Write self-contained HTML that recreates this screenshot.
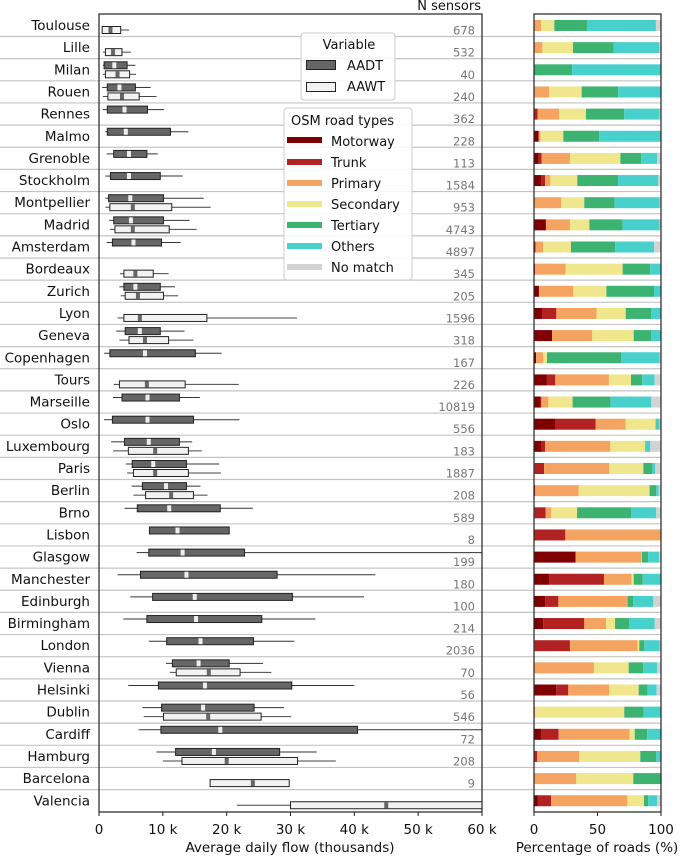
<!DOCTYPE html>
<html><head><meta charset="utf-8"><style>
html,body{margin:0;padding:0;background:#fff;}
svg{display:block;font-family:"DejaVu Sans","Liberation Sans",sans-serif;}
</style></head><body>
<svg id="chart" width="685" height="856" viewBox="0 0 685 856" xmlns="http://www.w3.org/2000/svg">
<g id="grid"></g>
<g id="boxes"></g>
<g id="bars"></g>
<g id="labels"></g>
<g id="axes"></g>
</svg>
<script>
const cities=["Toulouse","Lille","Milan","Rouen","Rennes","Malmo","Grenoble","Stockholm","Montpellier","Madrid","Amsterdam","Bordeaux","Zurich","Lyon","Geneva","Copenhagen","Tours","Marseille","Oslo","Luxembourg","Paris","Berlin","Brno","Lisbon","Glasgow","Manchester","Edinburgh","Birmingham","London","Vienna","Helsinki","Dublin","Cardiff","Hamburg","Barcelona","Valencia"];
const nSensors=[678,532,40,240,362,228,113,1584,953,4743,4897,345,205,1596,318,167,226,10819,556,183,1887,208,589,8,199,180,100,214,2036,70,56,546,72,208,9,null];
// [whiskerLow, q1, median, q3, whiskerHigh] in thousands, null = absent
const aadt=[null,null,[0.6,0.8,2.4,4.4,5.7],[0.5,1.3,3.2,5.7,8.1],[0.6,1.3,4.0,7.6,10.2],[1.0,1.3,4.2,11.2,14.0],[1.2,2.3,4.7,7.5,9.2],[1.0,1.8,4.7,9.6,13.1],[1.0,1.5,4.9,10.1,16.4],[1.6,2.3,5.0,10.1,14.2],[1.2,2.1,5.4,9.8,12.8],null,[3.2,3.9,5.7,9.6,11.9],null,[2.7,4.1,6.4,9.6,13.4],[0.8,1.7,7.2,15.1,19.2],null,[2.2,3.6,7.6,12.6,15.8],[0.8,2.1,7.6,14.8,22.0],[1.9,4.0,7.8,12.6,14.6],[4.2,5.2,8.5,13.7,18.8],[5.1,6.8,10.5,13.7,15.9],[4.0,6.0,11.0,19.0,24.1],[null,7.9,12.3,20.4,null],[5.9,7.8,13.1,22.8,70],[2.9,6.5,13.7,27.9,43.3],[4.9,8.4,15.0,30.3,41.5],[3.8,7.5,15.2,25.5,33.9],[7.8,10.6,15.9,24.2,30.6],[10.5,11.5,15.6,20.4,25.7],[4.6,9.3,16.6,30.2,40.0],[6.8,9.8,16.3,24.3,29.0],[6.2,9.7,19.0,40.5,70],[9.0,12.0,18.0,28.3,34.1],null,null];
const aawt=[[0.4,0.5,1.8,3.4,4.7],[0.6,1.0,2.2,3.6,5.0],[0.6,1.0,2.9,4.8,5.8],[0.6,1.4,3.6,6.3,9.0],null,null,null,null,[1.0,1.7,5.3,11.4,17.5],[1.7,2.5,5.3,11.0,15.3],null,[3.3,3.9,5.7,8.5,10.9],[3.4,4.1,6.1,10.1,12.4],[2.9,3.9,6.4,16.9,31.0],[3.2,4.7,7.2,10.9,14.8],null,[2.3,3.2,7.5,13.5,21.9],null,null,[2.2,4.6,8.8,14.0,16.1],[4.4,5.4,8.8,14.0,19.1],[5.4,7.3,11.3,14.8,17.0],null,null,null,null,null,null,null,[11.1,12.1,17.2,22.1,27.0],null,[7.0,10.1,17.1,25.4,30.1],null,[10.0,13.0,20.0,31.1,37.1],[null,17.4,24.1,29.8,null],[21.6,30.0,45.0,70,70]];
const roadTypes=["Motorway","Trunk","Primary","Secondary","Tertiary","Others","No match"];
const shares=[[0,0,5.5,10.5,25.7,54.3,4],[0,0,6.6,24.1,32,36,1.3],[0,0,0,0,30,70,0],[0,0.5,11.5,25.5,28.9,33.6,0],[0,2.9,16.8,21.2,30.2,27.9,1],[3.7,0,1.5,17.9,28.3,48.6,0],[3.7,2.3,22.3,39.7,16.3,12.6,3.1],[5.8,2.9,4.2,21.2,32,31.8,2.1],[0,0,21.5,18.1,23.9,35.5,1],[9.4,0,18.9,15.3,26.2,29.2,1],[0,1.3,5.8,22,34.9,30.5,5.5],[0,0.8,24.2,44.8,21.8,8.4,0],[3.9,0,27.1,26,37.5,5.5,0],[6.3,11.3,31.7,22.9,20.2,7.6,0],[14.2,0,31.7,32.6,13.9,7.6,0],[1.6,0,5.7,2.9,58.3,30.5,1],[10.2,6.6,42.2,17.4,8.9,9.7,5],[5.2,0.6,5.5,19.1,30,32,7.6],[17.1,31.5,23.6,23.6,0.8,2.4,1],[6,2.7,51.4,27.6,0.5,3.4,8.4],[0.5,7.4,51.4,26.8,7.1,2.3,4.5],[0,1,34.2,55.8,5.3,1.9,1.8],[0.5,8.7,4.4,20.3,42.5,19.9,3.7],[0,24.7,75.3,0,0,0,0],[32.8,0,51.5,0.5,5,8.6,1.6],[12.1,43,21.8,1.6,7.1,14.4,0],[8.9,10.3,54,0.3,4.7,15.8,6],[7.3,32.3,17.1,7.1,11,20.2,5],[0.5,27.8,53.3,1.3,4,12.1,1],[0,0,47.2,27.3,11.6,11,2.9],[17.6,9.4,32.3,23.1,7.1,7.1,3.4],[0,0,1,70.1,15.3,13.6,0],[5.5,13.9,55.9,4,9.9,10.5,0.3],[0,2.6,33.1,48,12.6,3.7,0],[0,0,33.3,44.9,21.8,0,0],[3.1,10.3,60.1,13.1,3.4,7.1,2.9]];
const flowTicks=[0,10,20,30,40,50,60];
const flowTickLabels=["0","10 k","20 k","30 k","40 k","50 k","60 k"];
const pctTicks=[0,50,100];

const colors=["#800000","#b22222","#f4a460","#f0e68c","#3cb371","#48d1cc","#d3d3d3"];
const NS="http://www.w3.org/2000/svg";
const L={x0:99,x1:482,top:14,bottom:812};
const R={x0:534,x1:661};
const xF=v=>L.x0+(Math.min(v,62))*(L.x1-L.x0)/60;
const xP=p=>R.x0+p*(R.x1-R.x0)/100;
const yRow=i=>25.5+i*22.15;
function el(tag,attrs,parent,text){const e=document.createElementNS(NS,tag);for(const k in attrs)e.setAttribute(k,attrs[k]);if(text!=null)e.textContent=text;parent.appendChild(e);return e;}
const grid=document.getElementById('grid'),boxes=document.getElementById('boxes'),bars=document.getElementById('bars'),labels=document.getElementById('labels'),axes=document.getElementById('axes');

cities.forEach((c,i)=>{
  const y=yRow(i);
  if(i<cities.length-1){
    const ln=el('line',{x1:0,x2:R.x1,y1:y+11,y2:y+11,stroke:'#c4c4c4','stroke-width':1.2},grid);
    
    
  }
  const t=el('text',{x:90,y:y+4.5,'text-anchor':'end','font-size':13.5,fill:'#111'},labels,c);
  
  
  if(nSensors[i]!=null){
    const n=el('text',{x:475,y:y+9,'text-anchor':'end','font-size':11.5,fill:'#777'},labels,String(nSensors[i]));
    
    
  }
});

function drawBox(d,y,dark,name){
  const g=el('g',{},boxes);
  
  
  const [wl,q1,md,q3,wh]=d;
  const wc=dark?'#333':'#444';
  if(wl!=null) el('line',{x1:xF(wl),x2:xF(q1),y1:y,y2:y,stroke:wc,'stroke-width':1},g);
  if(wh!=null) el('line',{x1:xF(q3),x2:xF(wh),y1:y,y2:y,stroke:wc,'stroke-width':1},g);
  el('rect',{x:xF(q1),y:y-3.5,width:Math.max(0,xF(q3)-xF(q1)),height:7,fill:dark?'#666':'#f2f2f2',stroke:'#222','stroke-width':1},g);
  el('rect',{x:xF(md)-2,y:y-3,width:4,height:6,fill:dark?'#eee':'#666'},g);
}
cities.forEach((c,i)=>{
  const y=yRow(i);
  if(aadt[i]) drawBox(aadt[i],y-4.5,true,'aadt-box-'+c.toLowerCase());
  if(aawt[i]) drawBox(aawt[i],y+4.5,false,'aawt-box-'+c.toLowerCase());
});
const cp=el('clipPath',{id:'lc'},document.getElementById('chart'));
el('rect',{x:L.x0,y:0,width:L.x1-L.x0,height:856},cp);
boxes.setAttribute('clip-path','url(#lc)');

cities.forEach((c,i)=>{
  const y=yRow(i);let acc=0;
  shares[i].forEach((v,k)=>{
    if(v>0){
      const r=el('rect',{x:xP(acc),y:y-5.5,width:xP(acc+v)-xP(acc),height:11,fill:colors[k]},bars);
      
      
    }
    acc+=v;
  });
});

const f1=el('rect',{x:L.x0,y:L.top,width:L.x1-L.x0,height:L.bottom-L.top,fill:'none',stroke:'#222','stroke-width':1.2},axes);


const f2=el('rect',{x:R.x0,y:L.top,width:R.x1-R.x0,height:L.bottom-L.top,fill:'none',stroke:'#222','stroke-width':1.2},axes);


flowTicks.forEach((v,k)=>{
  el('line',{x1:xF(v),x2:xF(v),y1:L.bottom,y2:L.bottom+4,stroke:'#222'},axes);
  const t=el('text',{x:xF(v),y:L.bottom+22,'text-anchor':'middle','font-size':13.5,fill:'#111'},axes,flowTickLabels[k]);
  
  
});
pctTicks.forEach(v=>{
  el('line',{x1:xP(v),x2:xP(v),y1:L.bottom,y2:L.bottom+4,stroke:'#222'},axes);
  const t=el('text',{x:xP(v),y:L.bottom+22,'text-anchor':'middle','font-size':13.5,fill:'#111'},axes,String(v));
  
  
});
</script>
<svg style="position:absolute;left:0;top:0" width="685" height="856" xmlns="http://www.w3.org/2000/svg" font-family="DejaVu Sans, Liberation Sans, sans-serif">
<text x="290" y="852" text-anchor="middle" font-size="13.5" fill="#111">Average daily flow (thousands)</text>
<text x="597" y="852" text-anchor="middle" font-size="13.5" fill="#111">Percentage of roads (%)</text>
<text x="481" y="10" text-anchor="end" font-size="13" fill="#111">N sensors</text>
<g>
<rect x="301" y="33" width="94" height="67" rx="3" fill="#fff" fill-opacity="0.85" stroke="#ccc"/>
<text x="349" y="49" text-anchor="middle" font-size="13" fill="#111">Variable</text>
<rect x="306.5" y="60.5" width="29" height="9" fill="#666" stroke="#222"/>
<text x="347" y="70" font-size="13" fill="#111">AADT</text>
<rect x="306.5" y="82.5" width="29" height="9" fill="#f2f2f2" stroke="#222"/>
<text x="347" y="91" font-size="13" fill="#111">AAWT</text>
</g>
<g>
<rect x="284" y="108" width="128" height="172" rx="3" fill="#fff" fill-opacity="0.85" stroke="#ccc"/>
<text x="291" y="125" font-size="13" fill="#111">OSM road types</text>
<rect x="287" y="137" width="35" height="6" fill="#800000"/><text x="331" y="146" font-size="13" fill="#111">Motorway</text>
<rect x="287" y="159" width="35" height="6" fill="#b22222"/><text x="331" y="167" font-size="13" fill="#111">Trunk</text>
<rect x="287" y="180" width="35" height="6" fill="#f4a460"/><text x="331" y="188" font-size="13" fill="#111">Primary</text>
<rect x="287" y="201" width="35" height="6" fill="#f0e68c"/><text x="331" y="209" font-size="13" fill="#111">Secondary</text>
<rect x="287" y="222" width="35" height="6" fill="#3cb371"/><text x="331" y="230" font-size="13" fill="#111">Tertiary</text>
<rect x="287" y="243" width="35" height="6" fill="#48d1cc"/><text x="331" y="251" font-size="13" fill="#111">Others</text>
<rect x="287" y="264" width="35" height="6" fill="#d3d3d3"/><text x="331" y="272" font-size="13" fill="#111">No match</text>
</g>
</svg>
</body></html>
